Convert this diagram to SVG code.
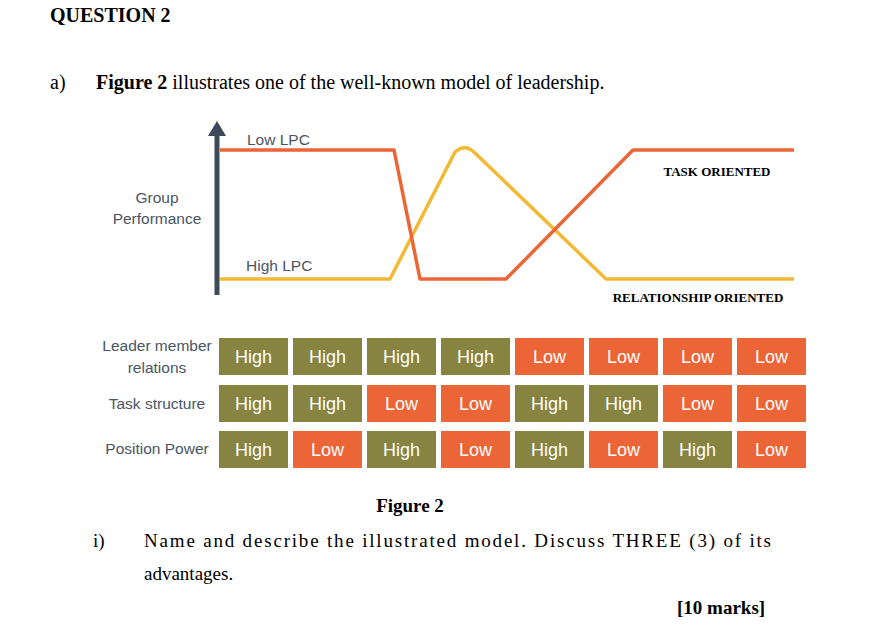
<svg xmlns="http://www.w3.org/2000/svg" width="882" height="632" viewBox="0 0 882 632">
<style>
.t{font-family:"Liberation Serif",serif;font-size:19px;fill:#000}
.b{font-weight:bold}
.sm{font-size:13px}
.s{font-family:"Liberation Sans",Arial,sans-serif;font-size:15.5px;fill:#4a5563}
.c{font-family:"Liberation Sans",Arial,sans-serif;font-size:18px;fill:#fff;text-anchor:middle}
.h{fill:#878340}.l{fill:#ec6536}
.ln{fill:none;stroke-width:3.5;stroke-linejoin:round}
</style>
<rect width="882" height="632" fill="#fff"/>
<text class="t b" x="50" y="22" style="font-size:20px">QUESTION 2</text>
<text class="t" x="50" y="89" style="font-size:20px">a)</text>
<text class="t" x="96" y="89" style="font-size:20px"><tspan class="b">Figure 2</tspan> illustrates one of the well-known model of leadership.</text>
<g id="chart">
<line x1="217" y1="134" x2="217" y2="295" stroke="#3d4a5a" stroke-width="5"/>
<polygon points="217,121 208,136 226,136" fill="#3d4a5a"/>
<text class="s" x="157" y="203" text-anchor="middle">Group</text>
<text class="s" x="157" y="224" text-anchor="middle">Performance</text>
<text class="s" x="247" y="145">Low LPC</text>
<text class="s" x="246" y="271">High LPC</text>
<path class="ln" stroke="#f2b935" d="M220,279 L390,279 L455,152 Q465,143 475,153 L606,279 L794,279"/>
<polyline class="ln" stroke="#ec6536" points="220,150 394,150 420,279 506,279 633,150 794,150"/>
<text class="t b sm" x="717" y="176" text-anchor="middle">TASK ORIENTED</text>
<text class="t b sm" x="698" y="302" text-anchor="middle">RELATIONSHIP ORIENTED</text>
</g>
<g id="table">
<text class="s" x="157" y="351" text-anchor="middle">Leader member</text>
<text class="s" x="157" y="373" text-anchor="middle">relations</text>
<text class="s" x="157" y="409" text-anchor="middle">Task structure</text>
<text class="s" x="157" y="454" text-anchor="middle">Position Power</text>
<g id="r1">
<rect class="h" x="219" y="338" width="69" height="37"/><text class="c" x="253.5" y="363">High</text>
<rect class="h" x="293" y="338" width="69" height="37"/><text class="c" x="327.5" y="363">High</text>
<rect class="h" x="367" y="338" width="69" height="37"/><text class="c" x="401.5" y="363">High</text>
<rect class="h" x="441" y="338" width="69" height="37"/><text class="c" x="475.5" y="363">High</text>
<rect class="l" x="515" y="338" width="69" height="37"/><text class="c" x="549.5" y="363">Low</text>
<rect class="l" x="589" y="338" width="69" height="37"/><text class="c" x="623.5" y="363">Low</text>
<rect class="l" x="663" y="338" width="69" height="37"/><text class="c" x="697.5" y="363">Low</text>
<rect class="l" x="737" y="338" width="69" height="37"/><text class="c" x="771.5" y="363">Low</text>
</g>
<g id="r2">
<rect class="h" x="219" y="385" width="69" height="37"/><text class="c" x="253.5" y="410">High</text>
<rect class="h" x="293" y="385" width="69" height="37"/><text class="c" x="327.5" y="410">High</text>
<rect class="l" x="367" y="385" width="69" height="37"/><text class="c" x="401.5" y="410">Low</text>
<rect class="l" x="441" y="385" width="69" height="37"/><text class="c" x="475.5" y="410">Low</text>
<rect class="h" x="515" y="385" width="69" height="37"/><text class="c" x="549.5" y="410">High</text>
<rect class="h" x="589" y="385" width="69" height="37"/><text class="c" x="623.5" y="410">High</text>
<rect class="l" x="663" y="385" width="69" height="37"/><text class="c" x="697.5" y="410">Low</text>
<rect class="l" x="737" y="385" width="69" height="37"/><text class="c" x="771.5" y="410">Low</text>
</g>
<g id="r3">
<rect class="h" x="219" y="431" width="69" height="37"/><text class="c" x="253.5" y="456">High</text>
<rect class="l" x="293" y="431" width="69" height="37"/><text class="c" x="327.5" y="456">Low</text>
<rect class="h" x="367" y="431" width="69" height="37"/><text class="c" x="401.5" y="456">High</text>
<rect class="l" x="441" y="431" width="69" height="37"/><text class="c" x="475.5" y="456">Low</text>
<rect class="h" x="515" y="431" width="69" height="37"/><text class="c" x="549.5" y="456">High</text>
<rect class="l" x="589" y="431" width="69" height="37"/><text class="c" x="623.5" y="456">Low</text>
<rect class="h" x="663" y="431" width="69" height="37"/><text class="c" x="697.5" y="456">High</text>
<rect class="l" x="737" y="431" width="69" height="37"/><text class="c" x="771.5" y="456">Low</text>
</g>
</g>
<text class="t b" x="410" y="512" text-anchor="middle">Figure 2</text>
<text class="t" x="93" y="547">i)</text>
<text class="t" x="144" y="547" textLength="627" lengthAdjust="spacing">Name and describe the illustrated model. Discuss THREE (3) of its</text>
<text class="t" x="144" y="580">advantages.</text>
<text class="t b" x="677" y="614">[10 marks]</text>
</svg>
